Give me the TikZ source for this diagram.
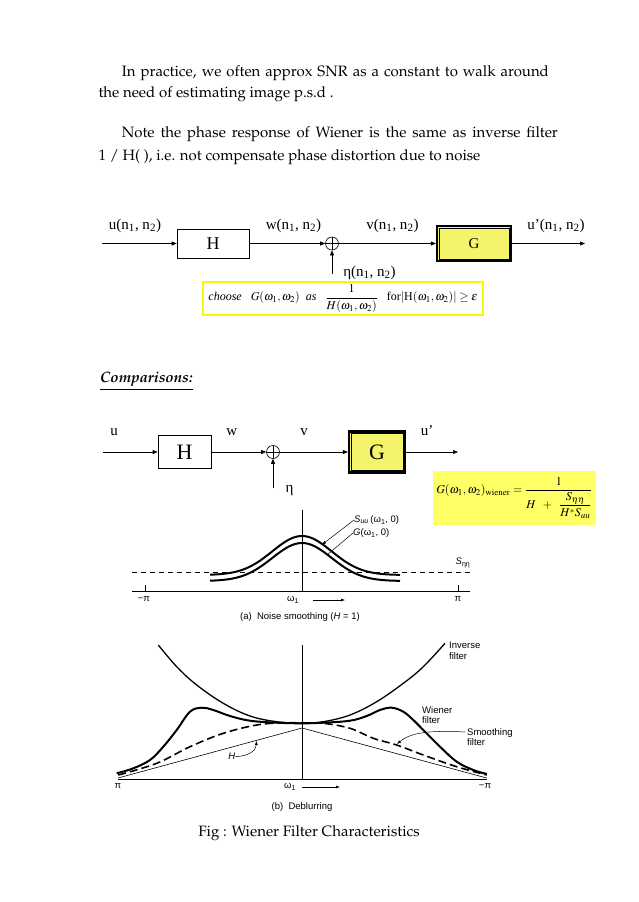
\documentclass[tikz,border=0pt]{standalone}
\usepackage[T1]{fontenc}
\usepackage{mathptmx}
\usepackage{fontspec}
\newfontfamily\tnr{Liberation Serif}
\newfontfamily\hel{Liberation Sans}
\newcommand\pal{\fontencoding{T1}\fontfamily{ppl}\selectfont}
\usetikzlibrary{arrows.meta}
\definecolor{gfill}{HTML}{F4F46A}
\definecolor{fyel}{HTML}{FFFF66}
\definecolor{byel}{HTML}{F8F800}
\begin{document}
\begin{tikzpicture}[x=1pt,y=-1pt,
  body/.style={anchor=base west, inner sep=0pt, font=\pal\fontsize{15}{18}\selectfont},
  arr/.style={-{Triangle[length=5pt,width=4pt]}, line width=0.6pt},
  parr/.style={-{Latex[length=4pt,width=3pt]}, line width=0.5pt},
  blk/.style={draw, line width=0.6pt, fill=white, inner sep=0pt},
  gblk/.style={draw, line width=2.2pt, fill=gfill, inner sep=0pt},
  sumnode/.style={circle, draw, line width=0.6pt, minimum size=13pt, inner sep=0pt,
    path picture={\draw[line width=0.6pt] (path picture bounding box.north) -- (path picture bounding box.south)
      (path picture bounding box.west) -- (path picture bounding box.east);}},
  lblA/.style={anchor=base, inner sep=0pt, font=\tnr\fontsize{15}{17}\selectfont},
  plt/.style={inner sep=0pt, font=\hel\fontsize{9.5}{10.5}\selectfont},
  thk/.style={line width=2pt},
]
\fill[white] (0,0) rectangle (638,902);
\useasboundingbox (0,0) rectangle (638,902);

% ---------- top text ----------
\node[body] (t1) at (121.7,76) {\makebox[427pt][s]{In practice, we often approx SNR as a constant to walk around}};
\node[body] (t2) at (98.3,97.5) {the need of estimating image p.s.d .};
\node[body] (t3) at (121.7,137.5) {\makebox[436pt][s]{Note the phase response of Wiener is the same as inverse filter}};
\node[body] (t4) at (98.3,160) {1 / H( ), i.e. not compensate phase distortion due to noise};

% ---------- block diagram 1 ----------
\coordinate (in1) at (102,243.5);
\node[blk, minimum width=72pt, minimum height=29pt, font=\tnr\fontsize{18}{20}\selectfont] (H1) at (213,243.5) {H};
\node[sumnode] (s1) at (332,243.5) {};
\coordinate (eta1) at (332,274);
\node[gblk, minimum width=74pt, minimum height=35pt, font=\tnr\fontsize{15}{17}\selectfont] (G1) at (474,243.5) {G};
\draw[line width=0.5pt] ([xshift=3pt,yshift=-3pt]G1.north west) rectangle ([xshift=-3pt,yshift=3pt]G1.south east);
\coordinate (out1) at (585,243.5);
\draw[arr] (in1) -- (H1.west);
\draw[arr] (H1.east) -- (s1.west);
\draw[arr] (eta1) -- (s1.south);
\draw[arr] (s1.east) -- (G1.west);
\draw[arr] (G1.east) -- (out1);
\node[lblA] (lu1) at (135,229.5) {u(n\textsubscript{1}, n\textsubscript{2})};
\node[lblA] (lw1) at (293.5,229.5) {w(n\textsubscript{1}, n\textsubscript{2})};
\node[lblA] (lv1) at (392.5,229.5) {v(n\textsubscript{1}, n\textsubscript{2})};
\node[lblA] (lo1) at (556,229.5) {u’(n\textsubscript{1}, n\textsubscript{2})};
\node[lblA] (le1) at (369.5,276) {η(n\textsubscript{1}, n\textsubscript{2})};

\node[draw=byel, line width=2pt, minimum width=280pt, minimum height=33pt, inner sep=0pt,
  font=\tnr\fontsize{12}{14}\selectfont] (choose) at (343,298.5)
  {\textit{choose}\hspace{9pt}$G(\omega_1,\omega_2)$\hspace{6pt}\textit{as}\hspace{9pt}$\displaystyle\frac{1}{H(\omega_1,\omega_2)}$\hspace{9pt}for$|$H$(\omega_1,\omega_2)|\ge\varepsilon$};

% ---------- Comparisons ----------
\node[body] (cmp) at (100,382.7) {\bfseries\itshape\underline{Comparisons:}};

% ---------- block diagram 2 ----------
\coordinate (in2) at (103,452);
\node[blk, minimum width=53pt, minimum height=33pt, font=\tnr\fontsize{22}{24}\selectfont] (H2) at (184.5,452) {H};
\node[sumnode] (s2) at (273,452) {};
\coordinate (eta2) at (273,488);
\node[gblk, minimum width=56pt, minimum height=41pt, font=\tnr\fontsize{22}{24}\selectfont] (G2) at (377,452) {G};
\draw[line width=0.5pt] ([xshift=3pt,yshift=-3pt]G2.north west) rectangle ([xshift=-3pt,yshift=3pt]G2.south east);
\coordinate (out2) at (458,452);
\draw[arr] (in2) -- (H2.west);
\draw[arr] (H2.east) -- (s2.west);
\draw[arr] (eta2) -- (s2.south);
\draw[arr] (s2.east) -- (G2.west);
\draw[arr] (G2.east) -- (out2);
\node[lblA] (lu2) at (114,435) {u};
\node[lblA] (lw2) at (231.7,435) {w};
\node[lblA] (lv2) at (304,435) {v};
\node[lblA] (lo2) at (427,435) {u’};
\node[lblA] (le2) at (289.5,492) {η};

\node[fill=fyel, minimum width=163pt, minimum height=54pt, inner sep=0pt,
  font=\tnr\fontsize{12}{14}\selectfont] (wf) at (514.5,498)
  {$G(\omega_1,\omega_2)_{\rm wiener} = \displaystyle\frac{1}{H \;\;+\;\; \displaystyle\frac{S_{\eta\eta}}{H^{*}S_{uu}}}$};

% ---------- plot (a) ----------
\draw[line width=0.6pt] (132,591) -- (470,591);
\draw[line width=0.8pt] (302,510) -- (302,591);
\draw[line width=0.5pt] (145,585) -- (145,591);
\draw[line width=0.5pt] (458,585) -- (458,591);
\draw[line width=0.7pt, dash pattern=on 5pt off 4pt] (132,572) -- (470,572);
\draw[thk, domain=-92:98, samples=90, smooth] plot ({\x+302},{575-39*exp(0-(\x/42)*(\x/42))});
\draw[thk, domain=-92:98, samples=90, smooth] plot ({\x+302},{581-38*exp(0-(\x/42)*(\x/42))});
\node[plt] (mpa) at (144,599) {−π};
\node[plt] (ppa) at (458,599) {π};
\node[plt] (w1a) at (293,600) {ω\textsubscript{1}};
\coordinate (wa1) at (313,600);
\coordinate (wa2) at (345,600);
\draw[parr] (wa1) -- (wa2);
\node[plt] (capa) at (300,617) {(a)\ \ Noise smoothing (\textit{H} = 1)};
\node[plt, anchor=west] (suuL) at (354,520) {\textit{S}\textsubscript{\itshape uu}\,(ω\textsubscript{1}, 0)};
\coordinate (suuT) at (322,544.6);
\draw[parr] (suuL.west) -- (suuT);
\node[plt, anchor=west] (gL) at (353,533) {\textit{G}(ω\textsubscript{1}, 0)};
\coordinate (gT) at (327,555);
\draw[line width=0.5pt] (gL.west) -- (gT);
\node[plt] (snn) at (463,563) {\textit{S}\textsubscript{ηη}};

% ---------- plot (b) ----------
\draw[line width=0.6pt] (118,779) -- (487,779);
\draw[line width=0.8pt] (302,645) -- (302,779);
% inverse filter
\draw[line width=1.3pt] plot[smooth, tension=0.6] coordinates {(158.3,645) (176.7,666.7) (196.7,685) (223.3,703.3) (250,716) (276.7,721.7) (302,723) (323.3,721.7) (350,715) (376.7,701.7) (403.3,683.3) (423.3,666.7) (445,643.3)};
% Wiener filter
\draw[thk] plot[smooth, tension=0.6] coordinates {(116.7,773.3) (133.3,768.3) (150,760) (163.3,746.7) (176.7,730) (190,711.7) (201.7,707.7) (213.3,710) (230,716) (250,720.7) (276.7,722.7) (302,723.3) (323.3,722.7) (350,720.7) (366.7,716) (380,710) (391.7,707.7) (403.3,711.7) (413.3,720) (423.3,730) (440,746.7) (456.7,761.7) (473.3,770) (486.7,774)};
% smoothing filter
\draw[line width=1.6pt, dash pattern=on 8pt off 4pt] plot[smooth, tension=0.6] coordinates {(118.3,775) (156.7,763.3) (190,746.7) (223.3,733.3) (256.7,725) (283.3,722.7) (302,723) (323.3,723.3) (350,728.3) (373.3,738.3) (396.7,745) (423.3,755) (456.7,766.7) (486.7,775)};
% H
\draw[line width=0.6pt] (118,778) -- (302,728) -- (486.7,778);
\node[plt] (Hl) at (231.7,756.7) {\textit{H}};
\coordinate (hT) at (256.5,741);
\draw[parr] (Hl.east) .. controls (250,756) and (256,750) .. (hT);
\node[plt, anchor=north west, align=left] (inv) at (449,642) {Inverse\\filter};
\node[plt, anchor=north west, align=left] (wie) at (422,706) {Wiener\\filter};
\node[plt, anchor=north west, align=left] (smo) at (467,728) {Smoothing\\filter};
\coordinate (smS) at (465,732);
\coordinate (smT) at (397,744);
\draw[parr] (smS) .. controls (428,730) and (410,733) .. (smT);
\node[plt] (ppb) at (118,786) {π};
\node[plt] (mpb) at (485,786) {−π};
\node[plt] (w1b) at (290,787) {ω\textsubscript{1}};
\coordinate (wb1) at (302,787);
\coordinate (wb2) at (340,787);
\draw[parr] (wb1) -- (wb2);
\node[plt] (capb) at (302,807) {(b)\ \ Deblurring};

% ---------- caption ----------
\node[body, anchor=base] (fig) at (309,836) {Fig : Wiener Filter Characteristics};
\end{tikzpicture}
\end{document}
